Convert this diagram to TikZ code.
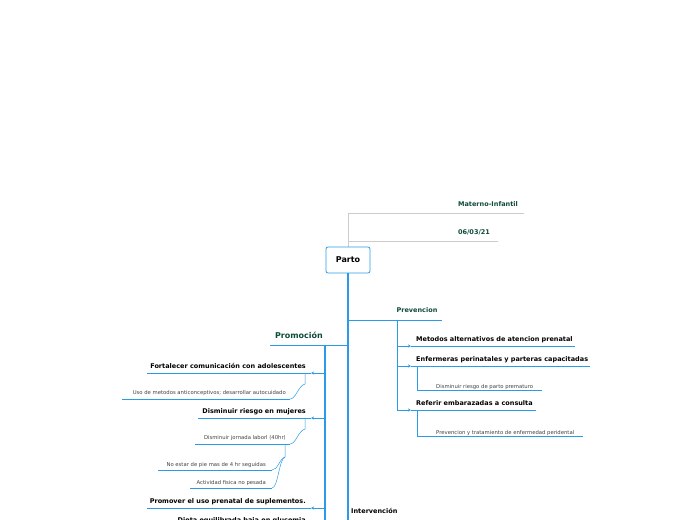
\documentclass[tikz,border=0pt]{standalone}
\usepackage{fontspec}
\setmainfont{DejaVu Sans}
\usetikzlibrary{arrows.meta}
\definecolor{bl}{HTML}{2A9BE8}
\definecolor{gr}{HTML}{0E4A3A}
\definecolor{lg}{HTML}{CCCCCC}
\tikzset{
 trunk/.style={bl,line width=1.1pt},
 br/.style={bl,line width=0.8pt},
 thin/.style={bl,line width=0.5pt},
 arr/.style={-{Stealth[length=3pt,width=3pt]}},
 lbl/.style={font=\bfseries\fontsize{6.5}{7}\selectfont,inner sep=0pt},
 sml/.style={font=\fontsize{5.3}{6}\selectfont,text=black!75,inner sep=0pt},
 hd/.style={font=\bfseries\fontsize{6.5}{7}\selectfont,text=gr,inner sep=0pt},
}
\begin{document}
\begin{tikzpicture}[x=1pt,y=-1pt]
\useasboundingbox (0,0) rectangle (697,520);
\clip (0,0) rectangle (697,520);
% header
\draw[lg,line width=0.7pt] (348,247) -- (348,213) -- (524,213);
\draw[lg,line width=0.7pt] (348,241) -- (498,241);
\node[hd] (mi) at (488,204) {Materno-Infantil};
\node[hd] (dt) at (474,232) {06/03/21};
\node[draw=bl,rounded corners=2pt,line width=0.8pt,minimum width=44pt,minimum height=26pt,font=\bfseries\fontsize{8}{9}\selectfont] (parto) at (348,260) {Parto};
\draw[trunk] (parto.south) -- (348,525);
% Prevencion
\draw[br] (348,320) -- (442,320);
\node[hd] (prev) at (417,310) {Prevencion};
\draw[br] (397,320) -- (397,410);
\foreach \y/\e/\t in {346/575/Metodos alternativos de atencion prenatal,366/590/Enfermeras perinatales y parteras capacitadas,410/536/Referir embarazadas a consulta}{
 \draw[br,arr] (397,\y) -- (411,\y);
 \draw[br] (411,\y) -- (\e,\y);
 \node[lbl,anchor=base west] at (416,\y-5) {\t};
}
\draw[thin] (417,366) -- (417,390) -- (542,390);
\node[sml,anchor=base west] (s1) at (436,388) {Disminuir riesgo de parto prematuro};
\draw[thin] (417,410) -- (417,436) -- (583,436);
\node[sml,anchor=base west] (s2) at (436,434) {Prevencion y tratamiento de enfermedad peridental};
% Promocion
\draw[br] (348,345) -- (270,345);
\node[font=\bfseries\fontsize{8}{9}\selectfont,text=gr,inner sep=0pt] (prom) at (299,335) {Promoción};
\draw[trunk] (325,345) -- (325,525);
\foreach \y/\e/\t in {373/147/Fortalecer comunicación con adolescentes,418/198/Disminuir riesgo en mujeres,508/147/Promover el uso prenatal de suplementos.}{
 \draw[br,arr] (325,\y) -- (311,\y);
 \draw[br] (311,\y) -- (\e,\y);
 \node[lbl,anchor=base east] at (306,\y-5) {\t};
}
\node[lbl,anchor=base east] at (306,522) {Dieta equilibrada baja en glucemia};
\draw[thin] (305,373) -- (305,384) .. controls (298,386) and (296,399) .. (290,399);
\draw[br] (290,399) -- (122,399);
\node[sml,anchor=base east] at (286,394) {Uso de metodos anticonceptivos; desarrollar autocuidado};
\draw[thin] (305,418) -- (305,429) .. controls (298,431) and (296,444) .. (290,444);
\draw[br] (290,444) -- (195,444);
\node[sml,anchor=base east] at (286,439) {Disminuir jornada laborl (40hr)};
\draw[thin] (285,444) -- (285,457) .. controls (279,459) and (278,470) .. (272,470);
\draw[thin] (285,457) .. controls (279,459) and (278,488) .. (272,488);
\draw[br] (272,470) -- (158,470);
\draw[br] (272,488) -- (190,488);
\node[sml,anchor=base east] at (266,466) {No estar de pie mas de 4 hr seguidas};
\node[sml,anchor=base east] at (266,484) {Actividad fisica no pesada};
\node[lbl,anchor=base west] (int) at (351,513) {Intervención};
\end{tikzpicture}
\end{document}
